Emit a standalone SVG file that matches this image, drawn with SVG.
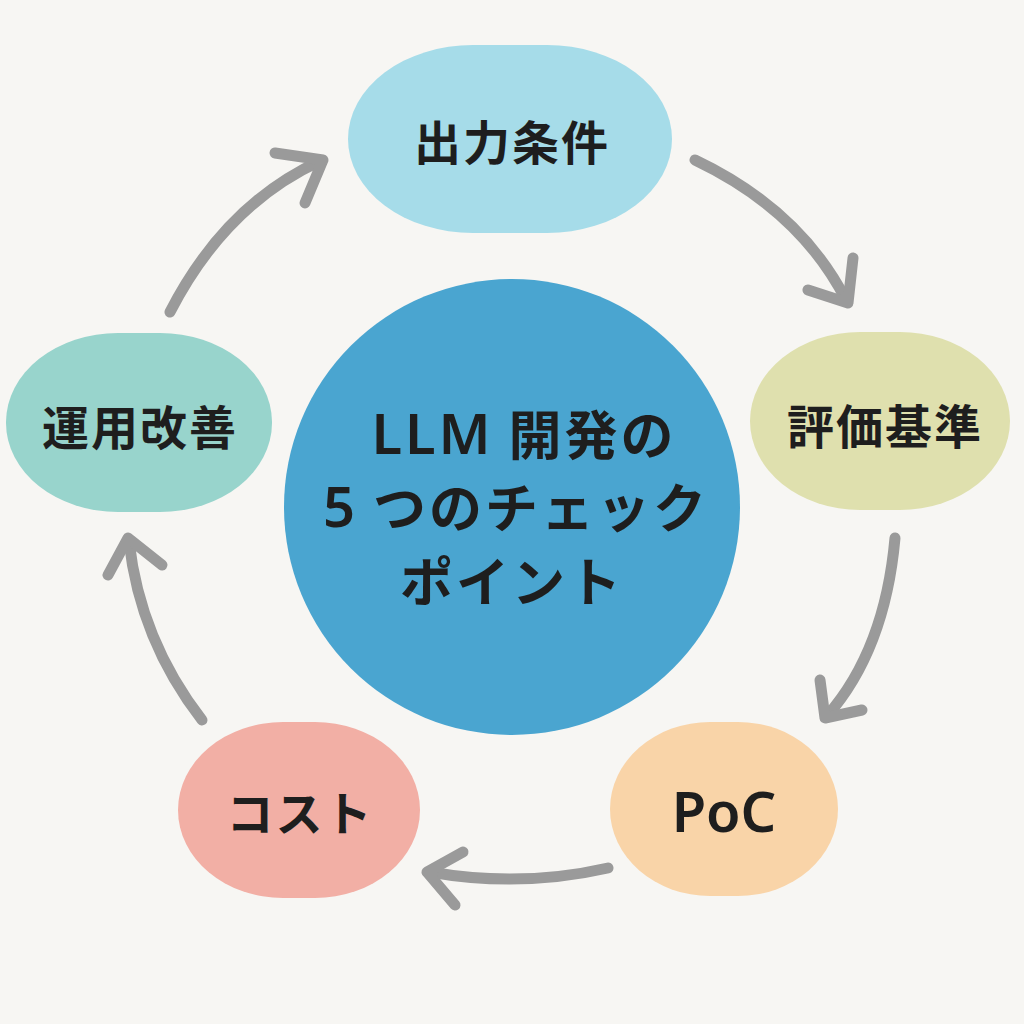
<svg xmlns="http://www.w3.org/2000/svg" width="1024" height="1024" viewBox="0 0 1024 1024">
<style>
.lbl{font-family:"Noto Sans CJK JP","Noto Sans",sans-serif;font-weight:700;fill:#1e1e1e;text-anchor:middle;dominant-baseline:central}
.n{font-size:47px;letter-spacing:2px}
.c{font-size:53px;letter-spacing:3px}
.lat{font-family:"Noto Sans","Noto Sans CJK JP",sans-serif;font-size:56px;font-weight:600}
.arr{fill:none;stroke:#9a9a9a;stroke-width:11;stroke-linecap:round;stroke-linejoin:round}
</style>
<rect width="1024" height="1024" fill="#f7f6f3"/>
<g id="connectors">
<path class="arr" d="M170,312 Q225,205 320,161"/>
<polyline class="arr" points="275,153 323,160 305,203"/>
<path class="arr" d="M695,160 Q800,210 846,300"/>
<polyline class="arr" points="853,258 848,303 808,290"/>
<path class="arr" d="M895,538 Q885,650 827,716"/>
<polyline class="arr" points="820,680 825,718 862,710"/>
<path class="arr" d="M608,868 Q520,888 430,872"/>
<polyline class="arr" points="463,852 427,872 455,905"/>
<path class="arr" d="M202,720 Q140,640 129,541"/>
<polyline class="arr" points="108,575 128,538 162,565"/>
</g>
<g id="center">
<circle cx="512" cy="507" r="228" fill="#4aa5d0"/>
<text class="lbl c" x="524" y="432"><tspan class="lat" font-size="56">LLM</tspan> 開発の</text>
<text class="lbl c" x="516" y="505"><tspan class="lat" font-size="56">5</tspan> つのチェック</text>
<text class="lbl c" x="512" y="579">ポイント</text>
</g>
<g id="node-output">
<rect x="348" y="45" width="324" height="188" rx="125" ry="94" fill="#a6dce9"/>
<text class="lbl n" x="512" y="139">出力条件</text>
</g>
<g id="node-eval">
<rect x="750" y="332" width="260" height="178" rx="110" ry="89" fill="#dfe0ae"/>
<text class="lbl n" x="885" y="423">評価基準</text>
</g>
<g id="node-poc">
<rect x="610" y="722" width="228" height="174" rx="100" ry="87" fill="#f9d4a8"/>
<text class="lbl lat" x="724" y="810">PoC</text>
</g>
<g id="node-cost">
<rect x="178" y="722" width="242" height="176" rx="105" ry="88" fill="#f2afa5"/>
<text class="lbl n" x="300" y="810">コスト</text>
</g>
<g id="node-ops">
<rect x="6" y="333" width="266" height="179" rx="112" ry="89" fill="#98d4cc"/>
<text class="lbl n" x="140" y="424">運用改善</text>
</g>
</svg>
